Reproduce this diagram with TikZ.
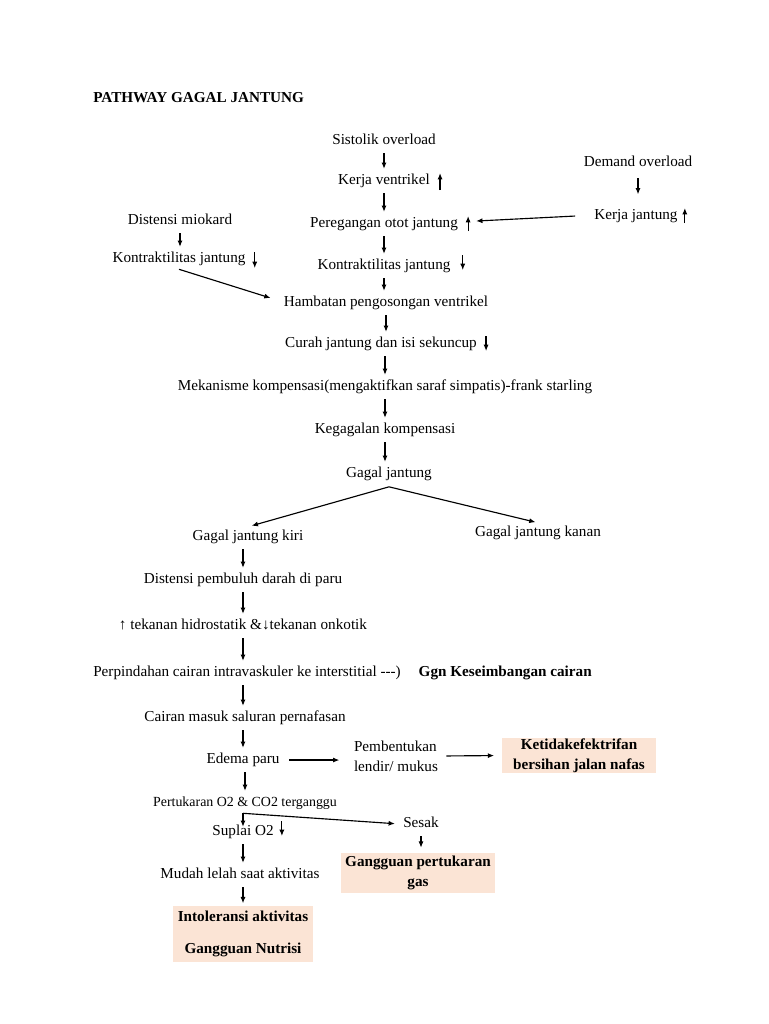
\documentclass[tikz,border=0pt]{standalone}
\usepackage{fontspec}
\setmainfont{Liberation Serif}
\usetikzlibrary{arrows.meta,calc,positioning}
\definecolor{peach}{RGB}{251,228,213}
\tikzset{
  lbl/.style={inner sep=2.4pt, text height=8.5pt, text depth=2.5pt, yshift=-2.4pt, font=\fontsize{12}{15.5}\selectfont},
  tebal/.style={lbl, font=\fontsize{12}{15.5}\selectfont\bfseries},
  hasil/.style={fill=peach, inner sep=0pt, align=center, font=\fontsize{12}{15.5}\selectfont\bfseries},
  arr/.style={-{Latex[length=5pt,width=4pt]}, line width=0.9pt},
  turun/.style={arr, shorten <=1.5pt, shorten >=1.5pt},
}

\begin{document}
\begin{tikzpicture}[x=0.79pt,y=-0.79pt]
		\useasboundingbox (0,0) rectangle (768,1024);
		\node[tebal, anchor=west] (judul) at (90,96) {PATHWAY GAGAL JANTUNG};
		% kolom tengah
		\node[lbl] (sis) at (384,138) {Sistolik overload};
		\node[lbl] (kv) at (384,178) {Kerja ventrikel};
		\node[lbl] (pog) at (384,221) {Peregangan otot jantung};
		\node[lbl] (kc) at (384,263) {Kontraktilitas jantung};
		\node[lbl] (hp) at (386,300) {Hambatan pengosongan ventrikel};
		\node[lbl] (cj) at (381,341) {Curah jantung dan isi sekuncup};
		\node[lbl] (mk) at (385,384) {Mekanisme kompensasi(mengaktifkan saraf simpatis)-frank starling};
		\node[lbl] (kg) at (385,427) {Kegagalan kompensasi};
		\node[lbl] (gj) at (389,471) {Gagal jantung};
		% kiri dan kanan atas
		\node[lbl] (dm) at (180,218) {Distensi miokard};
		\node[lbl] (kl) at (179,256) {Kontraktilitas jantung};
		\node[lbl] (dem) at (638,160) {Demand overload};
		\node[lbl] (kj) at (636,213) {Kerja jantung};
		% gagal jantung kiri
		\node[lbl] (gjl) at (248,534) {Gagal jantung kiri};
		\node[lbl] (gjk) at (538,530) {Gagal jantung kanan};
		\node[lbl] (dp) at (243,577) {Distensi pembuluh darah di paru};
		\node[lbl] (th) at (243,623) {↑ tekanan hidrostatik \&↓tekanan onkotik};
		\node[lbl] (pc) at (247,670) {Perpindahan cairan intravaskuler ke interstitial -{}-{}-)};
		\node[tebal, right=9pt of pc, yshift=2.4pt] (ggn) {Ggn Keseimbangan cairan};
		\node[lbl] (cm) at (245,715) {Cairan masuk saluran pernafasan};
		\node[lbl] (ep) at (243,757) {Edema paru};
		\node[inner sep=2.4pt, align=left, font=\fontsize{12}{15.5}\selectfont] (pl) at (396,756) {Pembentukan\\lendir/ mukus};
		\node[hasil, minimum width=121.7pt, minimum height=27.7pt] (ket) at (579,755.5) {Ketidakefektrifan\\bersihan jalan nafas};
		\node[lbl, font=\fontsize{11}{13}\selectfont] (pt) at (245,800) {Pertukaran O2 \& CO2 terganggu};
		\node[lbl] (sp) at (243,829) {Suplai O2};
		\node[lbl] (ses) at (421,821) {Sesak};
		\node[hasil, minimum width=121.7pt, minimum height=31.6pt] (ggp) at (418,873) {Gangguan pertukaran\\gas};
		\node[lbl] (ml) at (240,872) {Mudah lelah saat aktivitas};
		\node[hasil, minimum width=110.6pt, minimum height=44.2pt] (into) at (243,934) {Intoleransi aktivitas\\[10pt]Gangguan Nutrisi};

		% panah
		\draw[turun] (sis.south) -- (sis.south |- kv.north);
		\draw[turun] (kv.south) -- (kv.south |- pog.north);
		\draw[turun] (pog.south) -- (pog.south |- kc.north);
		\draw[turun] (kc.south) -- (kc.south |- hp.north);
		\draw[turun] (hp.south) -- (hp.south |- cj.north);
		\draw[turun] (cj.south -| mk.north) -- (mk.north);
		\draw[turun] (mk.south) -- (mk.south |- kg.north);
		\draw[turun] (kg.south) -- (kg.south |- gj.north);
		\draw[turun] (dm.south) -- (dm.south |- kl.north);
		\draw[turun, shorten <=4pt, shorten >=9pt] (dem.south) -- (dem.south |- kj.north);
		\draw[arr] ([shift={(-16,0)}]kj.west) -- ([shift={(15,-3)}]pog.east);
		\draw[arr] (kl.south) -- ([shift={(-10,-5)}]hp.west);
		\draw[arr, shorten >=3pt] ([yshift=-2pt]gj.south) -- (gjl.north);
		\draw[arr, shorten >=2pt] ([yshift=-2pt]gj.south) -- (gjk.north);
		\draw[turun] (gjl.south -| dp.north) -- (dp.north);
		\draw[turun] (dp.south) -- (dp.south |- th.north);
		\draw[turun] (th.south) -- (th.south |- pc.north);
		\draw[turun] (pc.south -| th.south) -- (th.south |- cm.north);
		\draw[turun] (cm.south -| ep.north) -- (ep.north);
		\draw[arr, shorten <=5pt, shorten >=9pt] (ep.east) -- (ep.east -| pl.west);
		\draw[arr, shorten <=4pt, shorten >=6pt] (pl.east) -- (ket.west);
		\draw[turun] (ep.south -| pt.north) -- (pt.north);
		\draw[arr, shorten >=-4pt] (pt.south -| sp.north) -- (sp.north);
		\draw[arr, shorten >=4pt] (pt.south -| sp.north) -- (ses.west);
		\draw[arr, shorten <=1.5pt, shorten >=4pt] (ses.south) -- (ses.south |- ggp.north);
		\draw[turun] (sp.south) -- (sp.south |- ml.north);
		\draw[arr, shorten <=1.5pt, shorten >=2pt] (ml.south -| into.north) -- (into.north);
		% panah naik turun
		\draw[arr] ($(kv.east)+(7,9)$) -- ++(0,-17);
		\draw[arr] ($(pog.east)+(7,7)$) -- ++(0,-15);
		\draw[arr] ($(kj.east)+(4,7)$) -- ++(0,-15);
		\draw[arr] ($(kl.east)+(6,-7)$) -- ++(0,16);
		\draw[arr] ($(kc.east)+(9,-11)$) -- ++(0,15);
		\draw[arr] ($(cj.east)+(6,-8)$) -- ++(0,15);
		\draw[arr] ($(sp.east)+(5,-11)$) -- ++(0,15);
\end{tikzpicture}
\end{document}
